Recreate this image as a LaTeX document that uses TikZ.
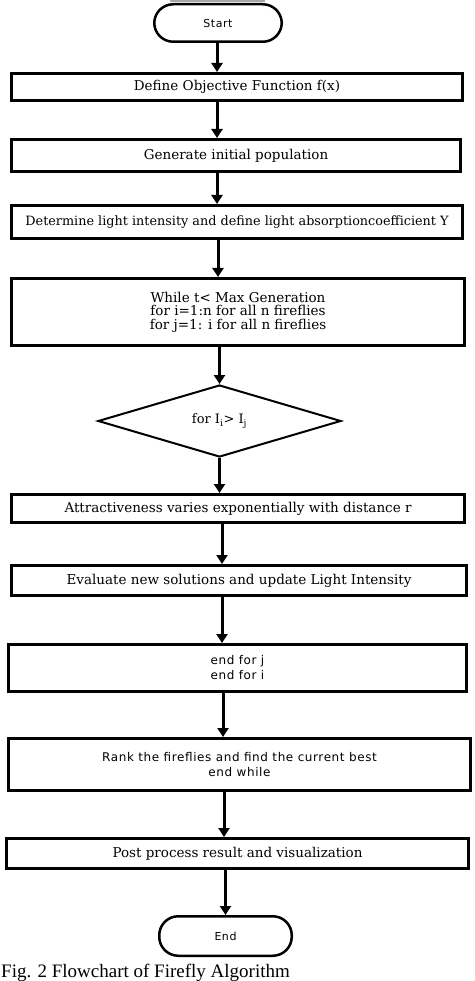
\documentclass[tikz,border=0pt]{standalone}
\usepackage{fontspec}
\setmainfont{DejaVu Serif}
\newfontfamily\capfont{Liberation Serif}
\newfontfamily\boxsans[LetterSpace=5]{DejaVu Sans}
\usetikzlibrary{arrows.meta,shapes.geometric}
\begin{document}
\begin{tikzpicture}[x=1pt,y=-1pt,
  box/.style={draw,line width=3pt,rectangle,inner sep=0pt,align=center,font=\fontsize{13.5}{15}\selectfont},
  term/.style={draw,line width=2.5pt,rectangle,rounded corners=19pt,inner sep=0pt,font=\boxsans\fontsize{11}{12}\selectfont},
  dec/.style={draw,line width=2pt,diamond,inner sep=0pt,font=\fontsize{13}{14}\selectfont},
  arr/.style={line width=3pt,-{Triangle[length=9pt,width=11pt]}}]
\useasboundingbox (0,0) rectangle (474,981);
\fill[gray!70] (170,0) rectangle (265,2.5);
\node[term,minimum width=127.5pt,minimum height=37.5pt] (start) at (218,23) {Start};
\node[box,minimum width=451pt,minimum height=27pt] (b1) at (237,87) {Define Objective Function f(x)};
\node[box,minimum width=449pt,minimum height=32pt] (b2) at (236,155.5) {Generate initial population};
\node[box,minimum width=451pt,minimum height=33pt,font=\fontsize{12.8}{15}\selectfont] (b3) at (237,222) {Determine light intensity and define light absorptioncoefficient Υ};
\node[box,minimum width=453pt,minimum height=67pt,font=\fontsize{13.5}{14.5}\selectfont] (b4) at (238,312) {While t< Max Generation\\[-1pt]for i=1:n for all n fireflies\\[-1pt]for j=1: i for all n fireflies};
\node[dec,minimum width=243pt,minimum height=72pt,aspect=3.4] (d) at (219.5,421) {for I\textsubscript{i}> I\textsubscript{j}};
\node[box,minimum width=453pt,minimum height=28pt] (b5) at (238,508.5) {Attractiveness varies exponentially with distance r};
\node[box,minimum width=455pt,minimum height=30pt] (b6) at (239,580.5) {Evaluate new solutions and update Light Intensity};
\node[box,minimum width=458pt,minimum height=47pt,font=\boxsans\fontsize{12}{15}\selectfont] (b7) at (237.5,668) {end for j\\end for i};
\node[box,minimum width=462pt,minimum height=52pt,font=\boxsans\fontsize{12}{15}\selectfont] (b8) at (239.5,764.5) {Rank the fireflies and find the current best\\end while};
\node[box,minimum width=462pt,minimum height=30pt] (b9) at (237.5,853.5) {Post process result and visualization};
\node[term,minimum width=132.5pt,minimum height=39.5pt] (end) at (225.5,936) {End};
\node[anchor=base west,inner sep=0pt,font=\capfont\fontsize{19}{20}\selectfont] (cap) at (1,977) {Fig. 2 Flowchart of Firefly Algorithm};
\draw[arr] (start.south -| 217,0) -- (b1.north -| 217,0);
\draw[arr] (b1.south -| 217,0) -- (b2.north -| 217,0);
\draw[arr] (b2.south -| 217,0) -- (b3.north -| 217,0);
\draw[arr] (b3.south -| 218,0) -- (b4.north -| 218,0);
\draw[arr] (b4.south -| 219.5,0) -- (d.north);
\draw[arr] (d.south) -- (b5.north -| 219.5,0);
\draw[arr] (b5.south -| 222,0) -- (b6.north -| 222,0);
\draw[arr] (b6.south -| 222,0) -- (b7.north -| 222,0);
\draw[arr] (b7.south -| 223,0) -- (b8.north -| 223,0);
\draw[arr] (b8.south -| 224,0) -- (b9.north -| 224,0);
\draw[arr] (b9.south -| 225.5,0) -- (end.north);
\end{tikzpicture}
\end{document}
